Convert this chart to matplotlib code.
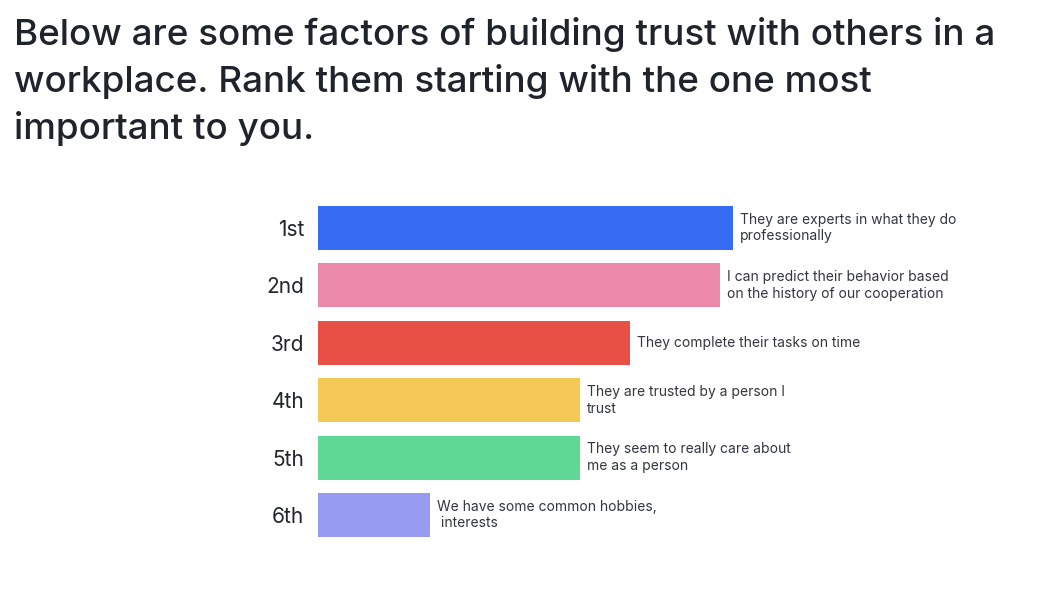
import matplotlib.pyplot as plt

ranks = ['1st', '2nd', '3rd', '4th', '5th', '6th']
scores = [415, 402, 312, 262, 262, 112]
answers = ['They are experts in what they do\nprofessionally',
           'I can predict their behavior based\non the history of our cooperation',
           'They complete their tasks on time',
           'They are trusted by a person I\ntrust',
           'They seem to really care about\nme as a person',
           'We have some common hobbies,\n interests']
colors = ['#356cf3', '#ec88aa', '#e85046', '#f5c955', '#5fd795', '#979cf1']

title = ('Below are some factors of building trust with others in a\n'
         'workplace. Rank them starting with the one most\n'
         'important to you.')

fig = plt.figure(figsize=(10.42, 5.97), dpi=100)
ax = fig.add_axes([318/1042, 1 - 543.7/597, 682/1042, 344.4/597])

y = range(len(ranks))
ax.barh(y, scores, height=0.77, color=colors)
for i, (s, a) in enumerate(zip(scores, answers)):
    ax.text(s + 7, i, a, va='center', ha='left', fontsize=10,
            color='#333640', family='Inter', linespacing=1.25)

ax.set_ylim(5.5, -0.5)
ax.set_xlim(0, 682)
ax.set_yticks(list(y))
ax.set_yticklabels(ranks, fontsize=15, color='#22252c', family='Inter')
ax.tick_params(axis='y', length=0, pad=10)
ax.set_xticks([])
for sp in ax.spines.values():
    sp.set_visible(False)

fig.text(14/1042, 1 - 17/597, title, ha='left', va='top', fontsize=26.5,
         color='#1f232b', family='Inter', fontweight='medium', linespacing=1.42)

fig.savefig('out.png', dpi=100)
